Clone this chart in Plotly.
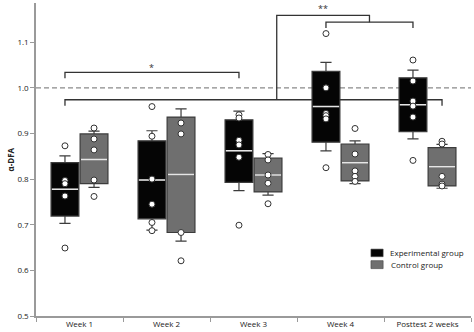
import plotly.graph_objects as go

weeks = ["Week 1", "Week 2", "Week 3", "Week 4", "Posttest 2 weeks"]
groups = ["Experimental group", "Control group"]

exp_q1 = [0.719, 0.713, 0.793, 0.881, 0.904]
exp_med = [0.778, 0.798, 0.862, 0.959, 0.963]
exp_q3 = [0.836, 0.884, 0.930, 1.036, 1.022]
exp_lo = [0.703, 0.688, 0.775, 0.862, 0.888]
exp_hi = [0.851, 0.906, 0.949, 1.056, 1.039]

ctl_q1 = [0.790, 0.683, 0.772, 0.796, 0.785]
ctl_med = [0.843, 0.810, 0.809, 0.836, 0.827]
ctl_q3 = [0.899, 0.936, 0.846, 0.877, 0.869]
ctl_lo = [0.782, 0.664, 0.765, 0.790, 0.780]
ctl_hi = [0.905, 0.954, 0.856, 0.884, 0.876]

exp_points = [
    [0.873, 0.797, 0.790, 0.763, 0.649],
    [0.959, 0.894, 0.800, 0.745, 0.705, 0.687],
    [0.941, 0.934, 0.885, 0.875, 0.848, 0.699],
    [1.119, 1.000, 0.944, 0.939, 0.932, 0.825],
    [1.061, 1.015, 0.971, 0.960, 0.936, 0.841],
]
ctl_points = [
    [0.912, 0.888, 0.864, 0.798, 0.762],
    [0.923, 0.899, 0.683, 0.621],
    [0.854, 0.842, 0.809, 0.791, 0.746],
    [0.911, 0.855, 0.818, 0.806, 0.795],
    [0.883, 0.877, 0.806, 0.789, 0.785],
]

OFF = 0.167
BW = 0.32
FONT = "Open Sans"
EXP_FILL = "#050505"
CTL_FILL = "#6f6f6f"

idx = list(range(len(weeks)))
exp_x = [i - OFF for i in idx]
ctl_x = [i + OFF for i in idx]

fig = go.Figure()


def add_group(xs, q1, med, q3, lo, hi, pts, fill, name):
    fig.add_trace(go.Box(
        x=xs, q1=q1, median=med, q3=q3, lowerfence=lo, upperfence=hi,
        width=BW, fillcolor=fill, line=dict(color="#3c3c3c", width=1.2),
        whiskerwidth=0.4, name=name, showlegend=False, hoverinfo="skip"))
    fig.add_trace(go.Box(
        x=xs, q1=med, median=med, q3=med, lowerfence=med, upperfence=med,
        width=BW * 0.94, fillcolor="rgba(0,0,0,0)", line=dict(color="#e6e6e6", width=1.5),
        whiskerwidth=0, showlegend=False, hoverinfo="skip"))
    px, py = [], []
    for x, p in zip(xs, pts):
        for v in p:
            px.append(x)
            py.append(v)
    fig.add_trace(go.Scatter(
        x=px, y=py, mode="markers", showlegend=False, hoverinfo="skip",
        marker=dict(symbol="circle", size=6, color="white",
                    line=dict(color="#333333", width=1))))


add_group(exp_x, exp_q1, exp_med, exp_q3, exp_lo, exp_hi, exp_points, EXP_FILL, groups[0])
add_group(ctl_x, ctl_q1, ctl_med, ctl_q3, ctl_lo, ctl_hi, ctl_points, CTL_FILL, groups[1])

LC = dict(color="#333333", width=1.3)
mid34 = (exp_x[3] + exp_x[4]) / 2
shapes = [
    dict(type="line", xref="paper", yref="y", x0=0, x1=1, y0=1.0, y1=1.0,
         line=dict(color="#8a8a8a", width=1.3, dash="5px,3px"), layer="below"),
    dict(type="path", path=f"M {exp_x[0]},1.021 L {exp_x[0]},1.034 L {exp_x[2]},1.034 L {exp_x[2]},1.021",
         line=LC, layer="below"),
    dict(type="path", path=f"M {exp_x[0]},0.961 L {exp_x[0]},0.974 L {ctl_x[4]},0.974 L {ctl_x[4]},0.961",
         line=LC, layer="below"),
    dict(type="path", path=f"M {exp_x[3]},1.131 L {exp_x[3]},1.144 L {exp_x[4]},1.144 L {exp_x[4]},1.131",
         line=LC, layer="below"),
    dict(type="path", path=f"M 2.267,0.974 L 2.267,1.159 L {mid34},1.159 L {mid34},1.144",
         line=LC, layer="below"),
    # legend swatches
    dict(type="rect", xref="paper", yref="paper", x0=0.770, x1=0.798, y0=0.1895, y1=0.2137,
         fillcolor=EXP_FILL, line=dict(color="#444", width=0.6)),
    dict(type="rect", xref="paper", yref="paper", x0=0.770, x1=0.798, y0=0.1514, y1=0.1768,
         fillcolor=CTL_FILL, line=dict(color="#444", width=0.6)),
]

annotations = [
    dict(x=(exp_x[0] + exp_x[2]) / 2, y=1.044, text="*", showarrow=False, yanchor="middle",
         font=dict(family=FONT, size=9, color="#333")),
    dict(x=(2.267 + mid34) / 2, y=1.174, text="**", showarrow=False, yanchor="middle",
         font=dict(family=FONT, size=9, color="#333")),
    dict(xref="paper", yref="paper", x=-0.0575, y=0.5, text="<b>α-DFA</b>", textangle=-90,
         showarrow=False, xanchor="center", yanchor="middle",
         font=dict(family=FONT, size=8, color="#222")),
    dict(xref="paper", yref="paper", x=0.8085, y=0.2022, text=groups[0], showarrow=False,
         xanchor="left", yanchor="middle", font=dict(family=FONT, size=8, color="#222")),
    dict(xref="paper", yref="paper", x=0.812, y=0.164, text=groups[1], showarrow=False,
         xanchor="left", yanchor="middle", font=dict(family=FONT, size=8, color="#222")),
]

fig.update_layout(
    width=474, height=332,
    margin=dict(l=36, r=3, t=3, b=14),
    paper_bgcolor="white", plot_bgcolor="white",
    shapes=shapes, annotations=annotations,
    font=dict(family=FONT, size=8, color="#222"),
    showlegend=False,
)
fig.update_xaxes(
    range=[-0.5, 4.5], tickmode="array", tickvals=idx, ticktext=weeks,
    ticks="", showgrid=False, zeroline=False, showline=True,
    linecolor="#9a9a9a", linewidth=1.5, tickfont=dict(family=FONT, size=8, color="#222"),
    minor=dict(tickmode="linear", tick0=-0.5, dtick=1, ticks="outside", ticklen=4,
               tickcolor="#9a9a9a", tickwidth=1.2, showgrid=False),
    fixedrange=True,
)
fig.update_yaxes(
    range=[0.5, 1.186], tickmode="linear", tick0=0.5, dtick=0.1, tickformat=".1f",
    ticks="outside", ticklen=4, tickcolor="#9a9a9a", tickwidth=1.2,
    showgrid=False, zeroline=False, showline=True, linecolor="#9a9a9a", linewidth=1.5,
    tickfont=dict(family=FONT, size=8, color="#222"), fixedrange=True,
)

fig.write_html("out.html")
